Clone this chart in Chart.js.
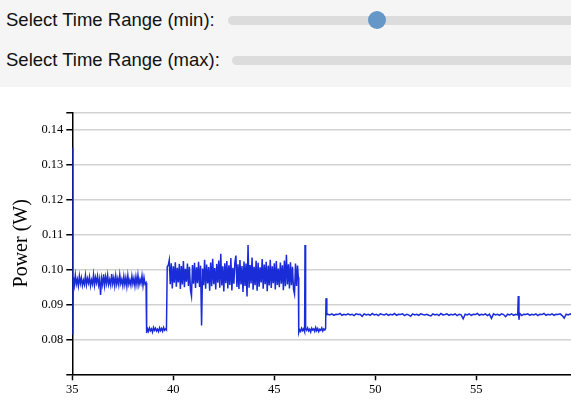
<!DOCTYPE html>
<html>
<head>
<meta charset="utf-8">
<script src="https://cdn.jsdelivr.net/npm/chart.js@4.4.1/dist/chart.umd.min.js"></script>
<style>
  html, body { margin: 0; padding: 0; width: 571px; height: 400px; overflow: hidden; background: #fff; }
  #panel { position: absolute; left: 0; top: 0; width: 571px; height: 87px; background: #f5f5f5; }
  .lbl { position: absolute; left: 6px; font-family: "Liberation Sans", Arial, sans-serif; font-size: 18.5px; line-height: 24px; color: #111; white-space: nowrap; }
  .track { position: absolute; height: 9px; border-radius: 5px; background: #dcdcdc; width: 420px; }
  .thumb { position: absolute; width: 18px; height: 18px; border-radius: 50%; background: #6598c7; }
  #wrap { position: absolute; left: 0; top: 90px; width: 600px; height: 310px; }
</style>
</head>
<body>
<div id="panel">
  <div class="lbl" style="top:8px">Select Time Range (min):</div>
  <div class="track" style="left:228px; top:15.5px"></div>
  <div class="thumb" style="left:368px; top:11px"></div>
  <div class="lbl" style="top:48px">Select Time Range (max):</div>
  <div class="track" style="left:232px; top:55.5px"></div>
</div>
<div id="wrap"><canvas id="c"></canvas></div>
<script>
// ---- data (time in minutes, power in W) ----
const xTicks = [35, 40, 45, 50, 55];
const yTicks = [0.08, 0.09, 0.10, 0.11, 0.12, 0.13, 0.14];
const yDomain = [0.07, 0.145];
const xDomain = [35, 60];

// edges and spikes
const eventTimes  = [35.00, 35.02, 38.65, 38.68, 39.66, 39.70, 46.19, 46.21, 46.52, 47.54, 47.56, 47.60, 57.08, 57.11];
const eventPowers = [0.1349, 0.0813, 0.0962, 0.0818, 0.0827, 0.1008, 0.0978, 0.0820, 0.1070, 0.0831, 0.0918, 0.0871, 0.0924, 0.0856];

// segment A: 35.05 .. 38.60, sampled every 0.05 min
const segAStart = 35.05, segAStep = 0.05;
const segAPower = [
  0.0978, 0.0955, 0.0984, 0.0958, 0.0972, 0.0953, 0.0981, 0.0960, 0.0976, 0.0954,
  0.0969, 0.0957, 0.0983, 0.0956, 0.0974, 0.0961, 0.0979, 0.0953, 0.0970, 0.0958,
  0.0985, 0.0955, 0.0977, 0.0962, 0.0981, 0.0956, 0.0973, 0.0927, 0.0975, 0.0957,
  0.0986, 0.0954, 0.0979, 0.0960, 0.0984, 0.0957, 0.0971, 0.0955, 0.0987, 0.0959,
  0.0976, 0.0953, 0.0982, 0.0958, 0.0974, 0.0956, 0.0985, 0.0960, 0.0972, 0.0954,
  0.0980, 0.0957, 0.0976, 0.0952, 0.0983, 0.0958, 0.0970, 0.0955, 0.0981, 0.0959,
  0.0975, 0.0953, 0.0979, 0.0957, 0.0984, 0.0956, 0.0972, 0.0960, 0.0982, 0.0954,
  0.0977, 0.0958
];

// segment B: low level 38.72 .. 39.62
const segBStart = 38.72, segBStep = 0.05;
const segBPower = [
  0.0831, 0.0823, 0.0833, 0.0825, 0.0830, 0.0821, 0.0834, 0.0826, 0.0832, 0.0824,
  0.0829, 0.0822, 0.0833, 0.0825, 0.0831, 0.0823, 0.0834, 0.0826, 0.0830
];

// segment C: noisy high level 39.75 .. 46.15
const segCStart = 39.75, segCStep = 0.05;
const segCPower = [
  0.1012, 0.1027, 0.0958, 0.1018, 0.0946, 0.1009, 0.0962, 0.1021, 0.0951, 0.1005,
  0.0963, 0.1016, 0.0944, 0.1010, 0.0957, 0.1024, 0.0949, 0.1002, 0.0965, 0.1017,
  0.0953, 0.1008, 0.0941, 0.0924, 0.1013, 0.0959, 0.1019, 0.0947, 0.1006, 0.0961,
  0.1022, 0.0950, 0.1011, 0.0840, 0.1003, 0.0955, 0.1028, 0.0945, 0.1014, 0.0960,
  0.1007, 0.0939, 0.1020, 0.0952, 0.1031, 0.0958, 0.1004, 0.0943, 0.1016, 0.0962,
  0.1026, 0.0948, 0.1045, 0.0954, 0.1009, 0.0937, 0.1018, 0.0961, 0.1024, 0.0946,
  0.1012, 0.0956, 0.1033, 0.0940, 0.1005, 0.0959, 0.1021, 0.1040, 0.0950, 0.1015,
  0.0944, 0.1027, 0.0957, 0.1010, 0.0936, 0.1023, 0.0953, 0.1017, 0.0923, 0.1070,
  0.0948, 0.1013, 0.0960, 0.1034, 0.0942, 0.1008, 0.0955, 0.1025, 0.0939, 0.1019,
  0.0951, 0.1006, 0.0963, 0.1030, 0.0945, 0.1014, 0.0958, 0.1022, 0.0938, 0.1011,
  0.0954, 0.1028, 0.0947, 0.1009, 0.0961, 0.1018, 0.0943, 0.1024, 0.0956, 0.1003,
  0.0949, 0.1020, 0.0959, 0.1012, 0.0941, 0.1026, 0.0952, 0.1042, 0.0957, 0.1015,
  0.0946, 0.1021, 0.0955, 0.1008, 0.0944, 0.0930, 0.1017, 0.0953, 0.1011
];

// segment D: low level 46.25 .. 47.50
const segDStart = 46.25, segDStep = 0.05;
const segDPower = [
  0.0828, 0.0823, 0.0832, 0.0825, 0.0830, 0.0822, 0.0831, 0.0826, 0.0833, 0.0824,
  0.0829, 0.0821, 0.0832, 0.0827, 0.0830, 0.0823, 0.0834, 0.0825, 0.0831, 0.0822,
  0.0829, 0.0826, 0.0833, 0.0824, 0.0830, 0.0827
];

// segment E: steady level 47.65 .. 59.95, sampled every 0.1 min
const segEStart = 47.65, segEStep = 0.1;
const segEPower = [
  0.0872, 0.0870, 0.0873, 0.0869, 0.0872, 0.0871, 0.0874, 0.0869, 0.0872, 0.0870,
  0.0873, 0.0870, 0.0872, 0.0868, 0.0873, 0.0871, 0.0872, 0.0866, 0.0873, 0.0870,
  0.0872, 0.0869, 0.0874, 0.0870, 0.0872, 0.0868, 0.0873, 0.0871, 0.0870, 0.0873,
  0.0869, 0.0872, 0.0870, 0.0874, 0.0869, 0.0872, 0.0871, 0.0873, 0.0868, 0.0872,
  0.0870, 0.0866, 0.0873, 0.0870, 0.0872, 0.0869, 0.0873, 0.0871, 0.0870, 0.0872,
  0.0869, 0.0867, 0.0873, 0.0870, 0.0872, 0.0868, 0.0874, 0.0870, 0.0871, 0.0873,
  0.0869, 0.0872, 0.0870, 0.0873, 0.0868, 0.0872, 0.0870, 0.0859, 0.0872, 0.0870,
  0.0873, 0.0869, 0.0872, 0.0871, 0.0874, 0.0869, 0.0872, 0.0870, 0.0873, 0.0868,
  0.0872, 0.0860, 0.0873, 0.0870, 0.0872, 0.0869, 0.0873, 0.0871, 0.0865, 0.0872,
  0.0870, 0.0873, 0.0869, 0.0872, 0.0870, 0.0874, 0.0868, 0.0872, 0.0871, 0.0873,
  0.0869, 0.0872, 0.0870, 0.0873, 0.0868, 0.0872, 0.0871, 0.0874, 0.0869, 0.0872,
  0.0870, 0.0873, 0.0869, 0.0872, 0.0871, 0.0873, 0.0868, 0.0861, 0.0872, 0.0870,
  0.0873, 0.0869, 0.0872, 0.0870
];

// ---- build points ----
function seg(start, step, vals) {
  return vals.map((v, i) => ({ x: +(start + i * step).toFixed(3), y: v }));
}
const points = [].concat(
  eventTimes.map((t, i) => ({ x: t, y: eventPowers[i] })),
  seg(segAStart, segAStep, segAPower),
  seg(segBStart, segBStep, segBPower),
  seg(segCStart, segCStep, segCPower),
  seg(segDStart, segDStep, segDPower),
  seg(segEStart, segEStep, segEPower)
).sort((a, b) => a.x - b.x);

const serif = "'Liberation Serif', 'Times New Roman', serif";

new Chart(document.getElementById('c'), {
  type: 'line',
  data: {
    datasets: [{
      data: points,
      borderColor: '#1a2bd8',
      borderWidth: 1.5,
      pointRadius: 0,
      tension: 0,
      fill: false
    }]
  },
  options: {
    responsive: true,
    maintainAspectRatio: false,
    animation: false,
    events: [],
    layout: { padding: { top: 22.3, right: 22.7, bottom: 0, left: 0 } },
    plugins: { legend: { display: false }, tooltip: { enabled: false } },
    scales: {
      x: {
        type: 'linear',
        min: xDomain[0],
        max: xDomain[1],
        afterBuildTicks: (s) => { s.ticks = xTicks.map(v => ({ value: v })); },
        afterFit: (s) => { s.height = 25.7; },
        border: { display: true, color: '#000', width: 1.5 },
        grid: { drawOnChartArea: false, drawTicks: true, tickLength: 6, tickColor: '#000', tickWidth: 1.5 },
        ticks: { color: '#000', font: { family: serif, size: 12.5 }, padding: 2, maxRotation: 0, callback: (v) => String(v) }
      },
      y: {
        type: 'linear',
        min: yDomain[0],
        max: yDomain[1],
        afterBuildTicks: (s) => { s.ticks = [yDomain[0]].concat(yTicks, [yDomain[1]]).map(v => ({ value: v })); },
        afterFit: (s) => { s.width = 72.3; },
        border: { display: true, color: '#000', width: 1.5 },
        grid: { color: '#d2d2d2', lineWidth: 1.5, drawTicks: true, tickLength: 6, tickColor: '#000', tickWidth: 1.5 },
        ticks: {
          color: '#000', font: { family: serif, size: 12.5 }, padding: 3,
          callback: (v) => yTicks.some(t => Math.abs(t - v) < 1e-9) ? v.toFixed(2) : ''
        },
        title: { display: true, text: 'Power (W)', color: '#000', font: { family: serif, size: 20 }, padding: { top: 10, bottom: 0 } }
      }
    }
  }
});
</script>
</body>
</html>
